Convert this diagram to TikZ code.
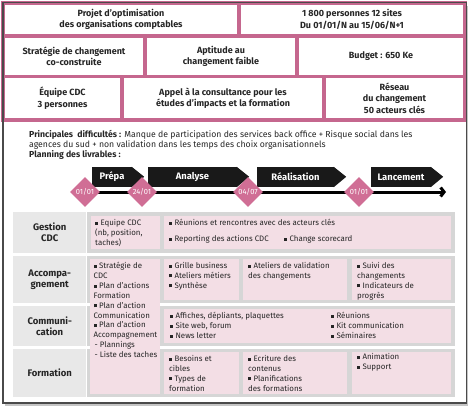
\documentclass[tikz,border=0pt]{standalone}
\usepackage{fontspec}
\setmainfont{Fira Sans}
\usetikzlibrary{shapes.geometric, arrows.meta, positioning, backgrounds, shadows}
\usepackage{xcolor}
\definecolor{rosebord}{HTML}{C5678E}
\definecolor{roselosange}{HTML}{D06E95}
\definecolor{rosecase}{HTML}{F3DEE5}
\definecolor{grisfond}{HTML}{D6D6D6}
\definecolor{grisclair}{HTML}{E8E8E8}
\definecolor{texte}{HTML}{262626}
\definecolor{cadregris}{HTML}{4A4A4A}
\newcommand{\puce}{{\rule[0.1em]{0.38em}{0.38em}}\hspace{0.3em}}

\begin{document}
\begin{tikzpicture}[x=1pt, y=-1pt,
  haut/.style={rectangle, draw=rosebord, line width=3.2pt, fill=white, text=texte, align=center, inner sep=0pt, font=\fontsize{9}{11.5}\selectfont\bfseries},
  intro/.style={anchor=north west, align=left, inner sep=0pt, text=texte, font=\fontsize{8.7}{10}\selectfont},
  etiquette/.style={rectangle, fill=grisclair, anchor=north west, inner sep=0pt, align=center, text=texte, font=\fontsize{9.5}{11}\selectfont\bfseries},
  bande/.style={rectangle, fill=grisfond, inner sep=0pt},
  casrose/.style={rectangle, fill=rosecase, anchor=north west, inner sep=0pt},
  contenu/.style={anchor=north west, align=left, inner sep=0pt, text=texte, font=\fontsize{7.9}{9.9}\selectfont},
  etape/.style={rectangle, fill=black!90, text=white, minimum height=20pt, inner sep=0pt, font=\fontsize{9.4}{10}\selectfont\bfseries},
  jalon/.style={diamond, fill=roselosange, text=white, minimum width=30pt, minimum height=30pt, inner sep=0pt, font=\fontsize{7.5}{8}\selectfont},
  fleche/.style={line width=3pt, -{Straight Barb[length=3.5pt, width=9pt]}},
  bordure/.style={draw=cadregris, line width=1.4pt}
]
\useasboundingbox (0,0) rectangle (474,413);

% Cartouche
\node[haut, minimum width=236pt, minimum height=33pt] (projet) at (121,19.5) {Projet d’optimisation\\des organisations comptables};
\node[haut, minimum width=226pt, minimum height=33pt] (effectif) at (352,19.5) {1 800 personnes 12 sites\\Du 01/01/N au 15/06/N+1};
\node[haut, minimum width=142pt, minimum height=40.5pt] (strategie) at (74,56.25) {Stratégie de changement\\co-construite};
\node[haut, minimum width=152pt, minimum height=40.5pt] (aptitude) at (221,56.25) {Aptitude au\\changement faible};
\node[haut, minimum width=168pt, minimum height=40.5pt] (budget) at (381,56.25) {Budget : 650 Ke};
\node[haut, minimum width=119pt, minimum height=43.5pt] (equipe) at (62.5,98.25) {Équipe CDC\\3 personnes};
\node[haut, minimum width=202pt, minimum height=43.5pt] (appel) at (223,98.25) {Appel à la consultance pour les\\études d’impacts et la formation};
\node[haut, minimum width=141pt, minimum height=43.5pt] (reseau) at (394.5,98.25) {Réseau\\du changement\\50 acteurs clés};

% Difficultes
\node[intro] (difficultes) at (29,130.5) {\textbf{Principales\ \ difficultés :} Manque de participation des services back office + Risque social dans les\\agences du sud + non validation dans les temps des choix organisationnels\\\textbf{Planning des livrables :}};

% Planning
\node[etape, minimum width=40pt] (prepa) at (112,177) {Prépa};
\node[etape, minimum width=89pt] (analyse) at (192.5,177) {Analyse};
\node[etape, minimum width=77pt] (realisation) at (295.5,177) {Réalisation};
\node[etape, minimum width=60pt] (lancement) at (401,177) {Lancement};
\foreach \e in {prepa, analyse, realisation, lancement}
  \fill[black!90] ([xshift=-0.5pt]\e.north east) -- ++(12.5,10) -- ([xshift=-0.5pt]\e.south east) -- cycle;
\node[jalon] (j1) at (85,192) {01/01};
\node[jalon] (j2) at (142,192) {24/01};
\node[jalon] (j3) at (248,192) {04/07};
\node[jalon] (j4) at (359,192) {01/01};
\coordinate (fin) at (446,192);

% Tableau
\node[etiquette, minimum width=73pt, minimum height=41pt] (lgestion) at (13,212) {Gestion\\CDC};
\node[bande, minimum width=368pt, minimum height=41pt, right=0pt of lgestion] (bgestion) {};
\node[etiquette, minimum width=73pt, minimum height=47pt] (laccomp) at (13,256) {Accompa-\\gnement};
\node[bande, minimum width=368pt, minimum height=47pt, right=0pt of laccomp] (baccomp) {};
\node[etiquette, minimum width=73pt, minimum height=40pt] (lcomm) at (13,306) {Communi-\\cation};
\node[bande, minimum width=368pt, minimum height=40pt, right=0pt of lcomm] (bcomm) {};
\node[etiquette, minimum width=73pt, minimum height=48pt] (lform) at (13,349) {Formation};
\node[bande, minimum width=368pt, minimum height=48pt, right=0pt of lform] (bform) {};

\node[casrose, minimum width=69pt, minimum height=33pt] (cgA) at (91,216) {};
\node[casrose, minimum width=287pt, minimum height=33pt] (cgB) at (164,216) {};
\node[casrose, minimum width=70pt, minimum height=135pt] (caA) at (90,259) {};
\node[casrose, minimum width=75pt, minimum height=41pt] (caB) at (164,259) {};
\node[casrose, minimum width=104pt, minimum height=41pt] (caC) at (243,259) {};
\node[casrose, minimum width=99pt, minimum height=41pt] (caD) at (352,259) {};
\node[casrose, minimum width=287pt, minimum height=34pt] (ccB) at (164,309) {};
\node[casrose, minimum width=75pt, minimum height=42pt] (cfB) at (164,352) {};
\node[casrose, minimum width=104pt, minimum height=42pt] (cfC) at (243,352) {};
\node[casrose, minimum width=99pt, minimum height=42pt] (cfD) at (352,352) {};

\node[contenu] (tgA) at ([xshift=4pt, yshift=-3pt]cgA.north west) {\puce Equipe CDC\\(nb, position,\\taches)};
\node[contenu] (tgB) at ([xshift=5pt, yshift=-3pt]cgB.north west) {\puce Réunions et rencontres avec des acteurs clés\\[6pt]\makebox[115pt][l]{\puce Reporting des actions CDC}\puce Change scorecard};
\node[contenu] (taA) at ([xshift=3.5pt, yshift=-3pt]caA.north west) {\puce Stratégie de\\CDC\\\puce Plan d’actions\\Formation\\\puce Plan d’action\\Communication\\\puce Plan d’action\\Accompagnement\\\hspace{1pt}- Plannings\\\hspace{1pt}- Liste des taches};
\node[contenu] (taB) at ([xshift=5pt, yshift=-3pt]caB.north west) {\puce Grille business\\\puce Ateliers métiers\\\puce Synthèse};
\node[contenu] (taC) at ([xshift=5pt, yshift=-3pt]caC.north west) {\puce Ateliers de validation\\des changements};
\node[contenu] (taD) at ([xshift=5pt, yshift=-3pt]caD.north west) {\puce Suivi des\\changements\\\puce Indicateurs de\\progrès};
\node[contenu] (tcB) at ([xshift=6pt, yshift=-3pt]ccB.north west) {\puce Affiches, dépliants, plaquettes\\\puce Site web, forum\\\puce News letter};
\node[contenu] (tcB2) at ([xshift=167pt, yshift=-3pt]ccB.north west) {\puce Réunions\\\puce Kit communication\\\puce Séminaires};
\node[contenu] (tfB) at ([xshift=5pt, yshift=-3pt]cfB.north west) {\puce Besoins et\\cibles\\\puce Types de\\formation};
\node[contenu] (tfC) at ([xshift=5pt, yshift=-3pt]cfC.north west) {\puce Ecriture des\\contenus\\\puce Planifications\\des formations};
\node[contenu] (tfD) at ([xshift=5pt, yshift=-1.5pt]cfD.north west) {\puce Animation\\\puce Support};

% Fond et fleche
\begin{pgfonlayer}{background}
\node[fill=white, minimum width=463pt, minimum height=400pt, inner sep=0pt, anchor=north west, drop shadow={shadow xshift=2pt, shadow yshift=-3pt, fill=black!45}] (cadre) at (3,2.5) {};
\draw[fleche] (j1.center) -- (fin);
\end{pgfonlayer}
\draw[bordure] (cadre.north west) rectangle (cadre.south east);
\end{tikzpicture}
\end{document}
